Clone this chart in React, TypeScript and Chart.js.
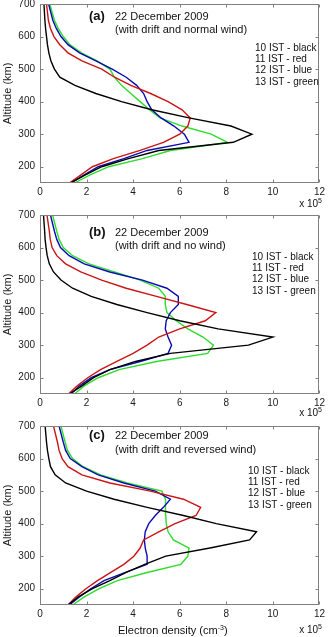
import React, { useEffect, useRef } from 'react';
import { Chart, registerables } from 'chart.js';

Chart.register(...registerables);

// ---------- data (electron density in units of 1e5 cm^-3) ----------
const altitudeKm = [150, 175, 200, 225, 250, 275, 300, 325, 350, 375, 400, 425, 450, 475, 500, 525, 550, 575, 600, 625, 650, 700];

// (a) with drift and normal wind
const aBlack = [1.3, 1.95, 2.65, 3.8, 5.1, 8.3, 9.1, 8.2, 6.4, 4.8, 3.5, 2.4, 1.5, 0.85, 0.62, 0.47, 0.38, 0.32, 0.28, 0.24, 0.21, 0.17];
const aRed = [1.26, 1.76, 2.25, 3.15, 4.3, 5.3, 6.0, 6.35, 6.45, 6.1, 5.5, 4.75, 3.9, 3.2, 2.65, 1.8, 1.2, 0.85, 0.6, 0.45, 0.36, 0.28];
const aBlue = [1.33, 1.9, 2.5, 3.6, 4.6, 6.4, 6.2, 5.75, 5.2, 4.8, 4.6, 4.45, 4.15, 3.7, 3.1, 2.4, 1.7, 1.2, 0.9, 0.7, 0.55, 0.37];
const aGreen = [1.48, 2.15, 2.95, 4.4, 5.6, 8.05, 7.35, 6.1, 5.15, 4.7, 4.3, 3.9, 3.5, 3.2, 3.0, 2.45, 1.78, 1.28, 1.0, 0.78, 0.62, 0.42];

// (b) with drift and no wind
const bBlack = [1.26, 1.8, 2.3, 3.0, 4.1, 5.6, 8.95, 10.0, 7.65, 6.0, 4.6, 3.3, 2.2, 1.4, 0.9, 0.58, 0.4, 0.31, 0.26, 0.22, 0.2, 0.15];
const bRed = [1.22, 1.6, 2.05, 2.6, 3.3, 4.0, 4.6, 5.1, 6.0, 7.1, 7.55, 6.3, 5.0, 3.7, 2.65, 1.75, 1.1, 0.72, 0.52, 0.44, 0.4, 0.3];
const bBlue = [1.33, 1.7, 2.2, 3.0, 4.3, 5.5, 5.65, 5.5, 5.38, 5.42, 5.6, 5.94, 5.94, 5.45, 4.4, 3.0, 1.9, 1.25, 0.88, 0.72, 0.62, 0.45];
const bGreen = [1.48, 1.9, 2.5, 3.4, 5.0, 7.2, 7.45, 7.0, 6.35, 5.85, 5.45, 5.38, 5.38, 5.1, 4.3, 3.2, 2.1, 1.4, 1.0, 0.82, 0.72, 0.54];

// (c) with drift and reversed wind
const cBlack = [1.2, 1.65, 2.25, 3.0, 3.7, 4.5, 5.4, 7.3, 9.0, 9.3, 7.57, 6.16, 4.6, 3.18, 2.0, 1.1, 0.65, 0.45, 0.38, 0.32, 0.28, 0.22];
const cRed = [1.2, 1.55, 1.97, 2.47, 3.04, 3.6, 4.03, 4.3, 4.45, 5.1, 5.8, 6.7, 6.9, 6.16, 4.74, 3.0, 1.8, 1.2, 0.95, 0.82, 0.75, 0.58];
const cBlue = [1.26, 1.69, 2.18, 2.75, 3.67, 4.6, 4.6, 4.52, 4.48, 4.52, 4.67, 4.95, 5.3, 5.6, 4.95, 3.6, 2.5, 1.8, 1.3, 1.1, 1.0, 0.82];
const cGreen = [1.4, 1.9, 2.54, 3.32, 4.6, 6.05, 6.35, 6.4, 5.73, 5.5, 5.42, 5.4, 5.4, 5.38, 5.23, 3.75, 2.6, 1.85, 1.4, 1.18, 1.08, 0.9];

const xTickValues = [0, 2, 4, 6, 8, 10, 12];
const yTickValues = [200, 300, 400, 500, 600, 700];

const seriesLabels = ['10 IST - black', '11 IST - red', '12 IST - blue', '13 IST - green'];
const seriesColors = ['#000000', '#cc1414', '#0a0ab4', '#2edc2e'];
const panelLetters = ['(a)', '(b)', '(c)'];
const panelDate = '22 December 2009';
const panelSubtitles = ['(with drift and normal wind)', '(with drift and no wind)', '(with drift and reversed wind)'];
const yTitle = 'Altitude (km)';

// ---------- layout ----------
const FONT = '"Liberation Sans", Arial, Helvetica, sans-serif';
const W = 328;
const PAD_TOP = 10;
const PLOT_H = 180;
const X_AXIS_H = 20;
const CANVAS_H = PAD_TOP + PLOT_H + X_AXIS_H;

const panels = [
  { plotTop: 3, series: [aBlack, aRed, aBlue, aGreen], letterY: 16, subY: 29, legendX: 255, legendY: 48, expY: 204 },
  { plotTop: 214, series: [bBlack, bRed, bBlue, bGreen], letterY: 232, subY: 245, legendX: 252, legendY: 257, expY: 413 },
  { plotTop: 425, series: [cBlack, cRed, cBlue, cGreen], letterY: 435, subY: 449, legendX: 248, legendY: 471, expY: 630 },
];

const framePlugin = {
  id: 'matlabFrame',
  afterDraw(chart: any) {
    const { ctx, chartArea, scales } = chart;
    const l = Math.round(chartArea.left) + 0.5;
    const r = Math.round(chartArea.right) - 0.5;
    const t = Math.round(chartArea.top) + 0.5;
    const b = Math.round(chartArea.bottom) - 0.5;
    ctx.save();
    ctx.strokeStyle = '#808080';
    ctx.lineWidth = 1;
    ctx.strokeRect(l, t, r - l, b - t);
    const tl = 3;
    ctx.beginPath();
    xTickValues.forEach((v) => {
      const px = Math.round(scales.x.getPixelForValue(v)) + 0.5;
      ctx.moveTo(px, b); ctx.lineTo(px, b - tl);
      ctx.moveTo(px, t); ctx.lineTo(px, t + tl);
    });
    yTickValues.forEach((v) => {
      const py = Math.round(scales.y.getPixelForValue(v)) + 0.5;
      ctx.moveTo(l, py); ctx.lineTo(l + tl, py);
      ctx.moveTo(r, py); ctx.lineTo(r - tl, py);
    });
    ctx.stroke();
    ctx.restore();
  },
};

function makeConfig(series: number[][]): any {
  return {
    type: 'scatter',
    data: {
      datasets: series.map((vals, i) => ({
        label: seriesLabels[i],
        data: altitudeKm.map((alt, k) => ({ x: vals[k], y: alt })),
        showLine: true,
        borderColor: seriesColors[i],
        backgroundColor: seriesColors[i],
        borderWidth: 1.4,
        pointRadius: 0,
        tension: 0,
      })),
    },
    options: {
      animation: false,
      responsive: false,
      devicePixelRatio: 1,
      layout: { padding: { top: PAD_TOP, left: 1, right: 6, bottom: 0 } },
      plugins: { legend: { display: false }, tooltip: { enabled: false }, title: { display: false } },
      scales: {
        x: {
          type: 'linear',
          min: 0,
          max: 12,
          afterBuildTicks: (s: any) => { s.ticks = xTickValues.map((v) => ({ value: v })); },
          afterFit: (s: any) => { s.height = X_AXIS_H; },
          grid: { display: false, drawTicks: false },
          border: { display: false },
          ticks: { font: { family: FONT, size: 10 }, color: '#1a1a1a', padding: 3, maxRotation: 0, autoSkip: false },
        },
        y: {
          type: 'linear',
          min: 150,
          max: 700,
          afterBuildTicks: (s: any) => { s.ticks = yTickValues.map((v) => ({ value: v })); },
          afterFit: (s: any) => { s.width = 39; },
          grid: { display: false, drawTicks: false },
          border: { display: false },
          ticks: { font: { family: FONT, size: 10 }, color: '#1a1a1a', padding: 5, autoSkip: false },
          title: { display: true, text: yTitle, font: { family: FONT, size: 11 }, color: '#1a1a1a', padding: 0 },
        },
      },
    },
    plugins: [framePlugin],
  };
}

function Txt(props: { x: number; y: number; size: number; bold?: boolean; right?: boolean; children: any }) {
  const lh = Math.round(props.size * 1.2);
  const style: any = {
    position: 'absolute',
    top: props.y - lh / 2,
    fontSize: props.size,
    lineHeight: `${lh}px`,
    fontWeight: props.bold ? 'bold' : 'normal',
    whiteSpace: 'nowrap',
  };
  if (props.right) style.right = W - props.x; else style.left = props.x;
  return <div style={style}>{props.children}</div>;
}

export default function App() {
  const r0 = useRef<HTMLCanvasElement>(null);
  const r1 = useRef<HTMLCanvasElement>(null);
  const r2 = useRef<HTMLCanvasElement>(null);
  const refs = [r0, r1, r2];

  useEffect(() => {
    const charts = panels.map((p, i) => new Chart(refs[i].current as HTMLCanvasElement, makeConfig(p.series)));
    return () => charts.forEach((c) => c.destroy());
  }, []);

  return (
    <div style={{ position: 'absolute', left: 0, top: 0, width: W, height: 637, overflow: 'hidden', background: '#fff', fontFamily: FONT, color: '#111' }}>
      {panels.map((p, i) => (
        <canvas key={'c' + i} ref={refs[i]} width={W} height={CANVAS_H}
          style={{ position: 'absolute', left: 0, top: p.plotTop - PAD_TOP, width: W, height: CANVAS_H, display: 'block' }} />
      ))}
      {panels.map((p, i) => (
        <React.Fragment key={'t' + i}>
          <Txt x={89} y={p.letterY} size={13} bold>{panelLetters[i]}</Txt>
          <Txt x={115} y={p.letterY} size={11}>{panelDate}</Txt>
          <Txt x={115} y={p.subY} size={11}>{panelSubtitles[i]}</Txt>
          {seriesLabels.map((lab, k) => (
            <Txt key={lab} x={p.legendX} y={p.legendY + k * 11.2} size={10}>{lab}</Txt>
          ))}
          <Txt x={322} y={p.expY} size={10} right>
            x 10<sup style={{ fontSize: 7, verticalAlign: 'top', position: 'relative', top: -3 }}>5</sup>
          </Txt>
        </React.Fragment>
      ))}
      <Txt x={118} y={630} size={11}>
        Electron density (cm<sup style={{ fontSize: 7, verticalAlign: 'top', position: 'relative', top: -3 }}>-3</sup>)
      </Txt>
    </div>
  );
}
